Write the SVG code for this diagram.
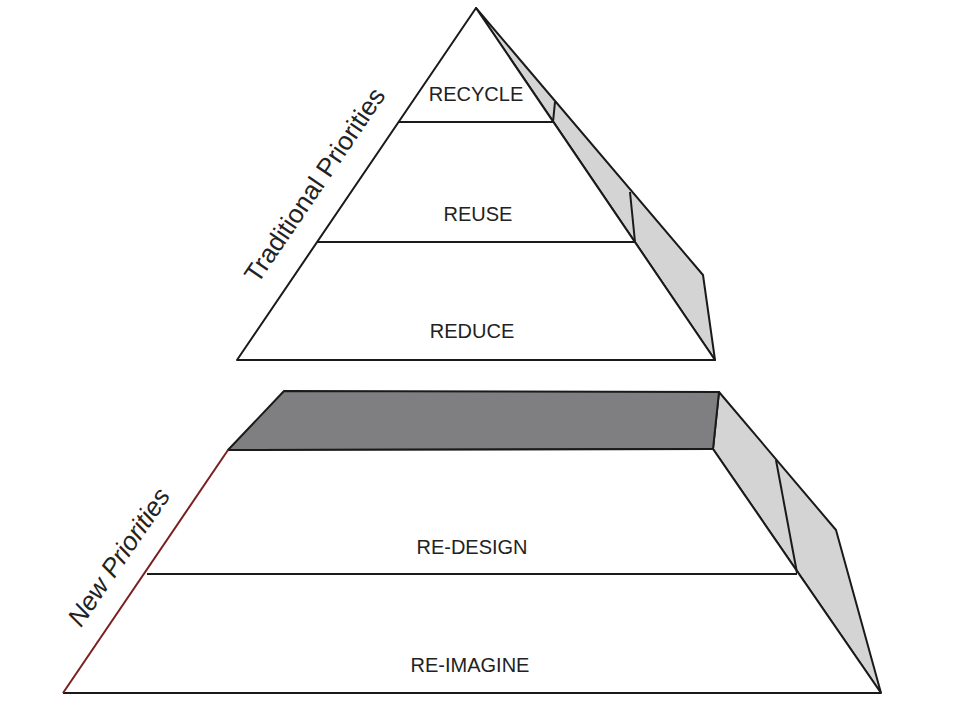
<svg xmlns="http://www.w3.org/2000/svg" width="960" height="720" viewBox="0 0 960 720">
<style>
.e{stroke:#1a1a1a;stroke-width:2;stroke-linejoin:round}
.s{fill:#d4d4d4}
.t{font-family:"Liberation Sans",Arial,sans-serif;font-size:20px;fill:#222;text-anchor:middle}
.l{font-family:"Liberation Sans",Arial,sans-serif;font-size:26px;fill:#222;text-anchor:middle}
</style>
<rect width="960" height="720" fill="#fff"/>
<g id="top-pyramid">
<polygon class="e s" points="476,8 703,275 715,360"/>
<polygon class="e" fill="#fff" points="476,8 715,360 237,360"/>
<line class="e" x1="399" y1="122" x2="553" y2="122"/>
<line class="e" x1="317" y1="242" x2="635" y2="242"/>
<line class="e" x1="553" y1="122" x2="555" y2="102"/>
<line class="e" x1="635" y1="242" x2="630" y2="192"/>
<text class="t" x="476" y="101">RECYCLE</text>
<text class="t" x="478" y="221">REUSE</text>
<text class="t" x="472" y="338">REDUCE</text>
<text class="l" transform="translate(322,190) rotate(-55.8)">Traditional Priorities</text>
</g>
<g id="bottom-pyramid">
<polygon class="e s" points="719,392 836,530 881,693 713,449"/>
<polygon class="e" fill="#7f7f81" points="284,391 719,392 713,449 228,450"/>
<polygon fill="#fff" points="228,450 713,449 881,693 63,693"/>
<line class="e" x1="228" y1="450" x2="713" y2="449"/>
<line class="e" x1="713" y1="449" x2="881" y2="693"/>
<line class="e" x1="63" y1="693" x2="881" y2="693"/>
<line x1="228" y1="450" x2="63" y2="693" stroke="#7a1f1f" stroke-width="2"/>
<line class="e" x1="147" y1="574" x2="797" y2="574"/>
<line class="e" x1="797" y1="573" x2="776" y2="460"/>
<text class="t" x="472" y="554">RE-DESIGN</text>
<text class="t" x="470" y="672">RE-IMAGINE</text>
<text class="l" font-style="italic" transform="translate(126,562) rotate(-55.8)">New Priorities</text>
</g>
</svg>
